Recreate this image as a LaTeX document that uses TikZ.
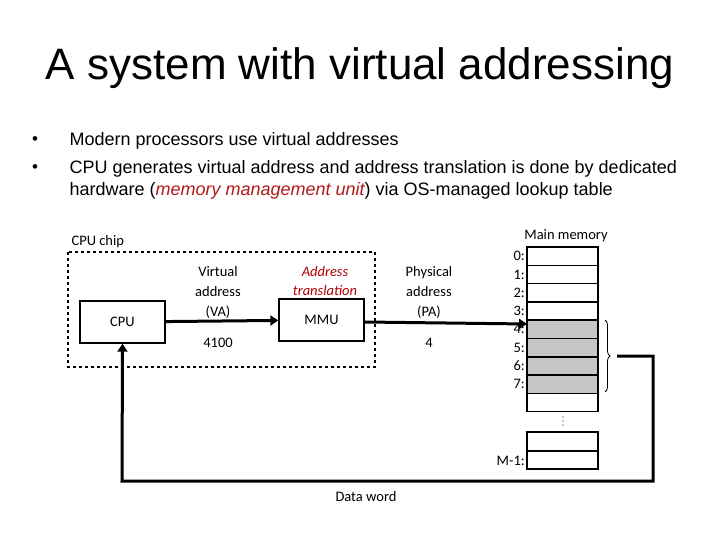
\documentclass[tikz,border=0pt]{standalone}
\usepackage{fontspec}
\setmainfont{Liberation Sans}
\newfontfamily\calfont{Carlito}
\usetikzlibrary{arrows.meta,decorations.pathreplacing}
\begin{document}
\begin{tikzpicture}[x=1pt,y=-1pt,
  box/.style={draw,line width=1.4pt,minimum width=85pt,minimum height=42pt,font=\calfont\fontsize{14.5}{17}\selectfont},
  lbl/.style={font=\calfont\fontsize{14.5}{20}\selectfont,align=center},
  cell/.style={draw,line width=1.5pt},
  thick3/.style={line width=3pt},
  arr/.style={thick3,-{Triangle[length=8pt,width=10pt]}}]
\useasboundingbox (0,0) rectangle (720,540);
\node[font=\fontsize{44}{48}\selectfont] (title) at (360,68) {A system with virtual addressing};
\node[font=\fontsize{17}{20}\selectfont] (b1) at (35,141) {•};
\node[font=\fontsize{17}{20}\selectfont] (b2) at (35,169) {•};
\node[anchor=west,font=\fontsize{18}{21}\selectfont] (t1) at (66,141) {Modern processors use virtual addresses};
\node[anchor=north west,font=\fontsize{18}{21.5}\selectfont,align=left] (t2) at (66,157) {CPU generates virtual address and address translation is done by dedicated\\hardware (\textcolor[rgb]{0.7,0.1,0.1}{\itshape memory management unit}) via OS-managed lookup table};
\draw[dashed,line width=1.2pt] (68,252) rectangle (375,367);
\node[lbl,anchor=west] (chip) at (68,242) {CPU chip};
\node[box] (cpu) at (122.5,322) {CPU};
\node[box] (mmu) at (321.5,320) {MMU};
\node[lbl] (va) at (218,292) {Virtual\\address\\(VA)};
\node[lbl] (v4100) at (218,343) {4100};
\node[lbl,text=red!70!black,font=\calfont\itshape\fontsize{14.5}{19}\selectfont] (at) at (325,281) {Address\\translation};
\node[lbl] (pa) at (429,292) {Physical\\address\\(PA)};
\node[lbl] (p4) at (429,343) {4};
\node[lbl] (mm) at (566,236) {Main memory};
\foreach \i in {0,...,8}{
  \pgfmathsetmacro\yy{247+\i*18.3}
  \ifnum\i>3 \ifnum\i<8 \def\fc{gray!45}\else\def\fc{white}\fi\else\def\fc{white}\fi
  \draw[cell,fill=\fc] (527,\yy) rectangle (598,\yy+18.3);
  \ifnum\i<8 \node[lbl,anchor=east,inner sep=1pt] (l\i) at (526,\yy+9.2) {\i:};\fi
}
\coordinate (memin) at (527,324);
\foreach \d in {417,421,425} \fill (563,\d) circle (0.6pt);
\draw[cell] (527,432) rectangle (598,451);
\draw[cell] (527,451) rectangle (598,469);
\node[lbl,anchor=east,inner sep=1pt] (lm) at (526,461) {M-1:};
\draw[decorate,decoration={brace,amplitude=5pt},line width=0.8pt] (605,320) -- (605,392);
\draw[arr] (cpu) -- (mmu);
\draw[arr] (mmu.east |- cpu) -- (memin);
\coordinate (d0) at (617,356);
\coordinate (d1) at (653,356);
\coordinate (d2) at (653,481);
\coordinate (d3) at (122,481);
\draw[arr] (d0) -- (d1) -- (d2) -- (d3) -- (cpu.south);
\node[lbl] (dw) at (366,497) {Data word};
\end{tikzpicture}
\end{document}
